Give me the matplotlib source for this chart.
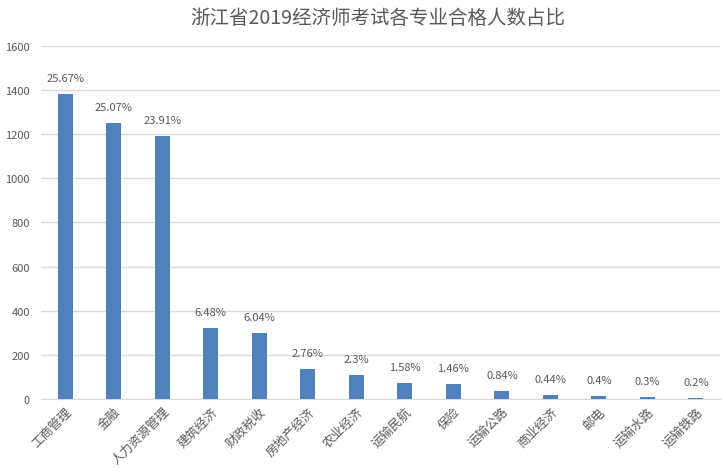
import numpy as np
import matplotlib.pyplot as plt

plt.rcParams['font.family'] = ['Noto Sans CJK SC', 'DejaVu Sans']

categories = ['工商管理', '金融', '人力资源管理', '建筑经济', '财政税收', '房地产经济', '农业经济',
              '运输民航', '保险', '运输公路', '商业经济', '邮电', '运输水路', '运输铁路']
counts = [1383, 1251, 1192, 322, 299, 136, 109, 72, 68, 36, 18, 14, 9, 5]
shares = ['25.67%', '25.07%', '23.91%', '6.48%', '6.04%', '2.76%', '2.3%',
          '1.58%', '1.46%', '0.84%', '0.44%', '0.4%', '0.3%', '0.2%']

text_color = '#595959'

fig = plt.figure(figsize=(7.26, 4.77), dpi=100)
ax = fig.add_axes([0.0565, 0.1614, 0.9355, 0.7401])

x = np.arange(len(categories))
bars = ax.bar(x, counts, width=0.31, color='#4F81BD', zorder=3)

for b, s in zip(bars, shares):
    ax.annotate(s, (b.get_x() + b.get_width() / 2, b.get_height()),
                xytext=(0, 8), textcoords='offset points',
                ha='center', va='bottom', fontsize=8, color=text_color)

ax.set_xlim(-0.5, len(categories) - 0.5)
ax.set_ylim(0, 1600)
ax.set_yticks(range(0, 1601, 200))
ax.yaxis.grid(True, color='#D9D9D9', linewidth=1, zorder=0)
ax.set_xticks(x)
ax.set_xticklabels(categories, rotation=45, ha='right', rotation_mode='anchor',
                   fontsize=9, color=text_color)
ax.tick_params(axis='x', length=0, pad=4)
ax.tick_params(axis='y', length=0, pad=8, labelsize=8, labelcolor=text_color)

for side in ['top', 'right', 'left']:
    ax.spines[side].set_visible(False)
ax.spines['bottom'].set_color('#D9D9D9')

fig.text(0.52, 0.962, '浙江省2019经济师考试各专业合格人数占比', ha='center', va='center',
         fontsize=14, color=text_color)

fig.savefig('out.png', dpi=100)
